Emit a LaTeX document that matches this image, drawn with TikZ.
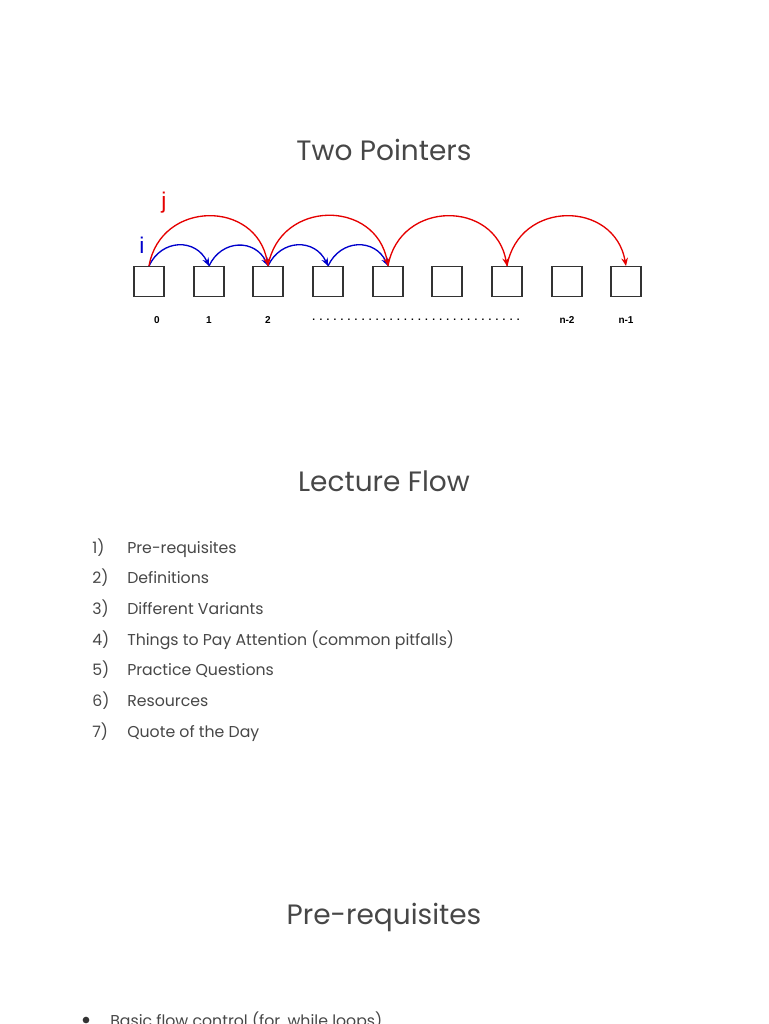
\documentclass[tikz,border=0pt]{standalone}
\usepackage{fontspec}
\usetikzlibrary{arrows.meta}
\setmainfont{Poppins}
\newfontfamily\arialb{Liberation Sans}
\begin{document}
\begin{tikzpicture}[x=0.75pt,y=-0.75pt,
  cell/.style={draw=black!80,line width=0.8pt,minimum size=22.5pt,inner sep=0pt},
  idx/.style={font=\arialb\bfseries\fontsize{7.5}{8}\selectfont},
  title/.style={font=\fontsize{21}{25}\selectfont,text=black!72,anchor=base},
  item/.style={font=\fontsize{11.8}{14}\selectfont,text=black!72,anchor=base west,inner sep=0pt},
  ra/.style={red!90!black,line width=1pt,-{Stealth[length=6pt,width=5pt]}},
  ba/.style={blue!80!black,line width=1pt,-{Stealth[length=6pt,width=5pt]}}]
\useasboundingbox (0,0) rectangle (768,1024);
\node[title] (t1) at (384,160) {Two Pointers};
\node[title] (t2) at (384,491) {Lecture Flow};
\node[title] (t3) at (384,924) {Pre-requisites};
\foreach \k/\xx in {0/149,1/209,2/268,3/328,4/388,5/447,6/507,7/567,8/626}{
  \node[cell] (c\k) at (\xx,281.5) {};
}
\node[idx] (l0) at (157,320) {0};
\node[idx] (l1) at (209,320) {1};
\node[idx] (l2) at (268,320) {2};
\node[idx] (ld) at (416,320) {.\hspace{3.2pt}.\hspace{3.2pt}.\hspace{3.2pt}.\hspace{3.2pt}.\hspace{3.2pt}.\hspace{3.2pt}.\hspace{3.2pt}.\hspace{3.2pt}.\hspace{3.2pt}.\hspace{3.2pt}.\hspace{3.2pt}.\hspace{3.2pt}.\hspace{3.2pt}.\hspace{3.2pt}.\hspace{3.2pt}.\hspace{3.2pt}.\hspace{3.2pt}.\hspace{3.2pt}.\hspace{3.2pt}.\hspace{3.2pt}.\hspace{3.2pt}.\hspace{3.2pt}.\hspace{3.2pt}.\hspace{3.2pt}.\hspace{3.2pt}.\hspace{3.2pt}.\hspace{3.2pt}.\hspace{3.2pt}.\hspace{3.2pt}.};
\node[idx] (l7) at (567,320) {n-2};
\node[idx] (l8) at (626,320) {n-1};
\foreach \a/\b in {0/1,1/2,2/3,3/4}{
  \draw[ba] (c\a.north) to[out=65,in=115,looseness=1.3] (c\b.north);
}
\foreach \a/\b in {0/2,2/4,4/6,6/8}{
  \draw[ra] (c\a.north) to[out=80,in=100,looseness=1.45] (c\b.north);
}
\node[text=red!90!black,font=\arialb\fontsize{17}{18}\selectfont] (j) at (164,203) {j};
\node[text=blue!80!black,font=\arialb\fontsize{17}{18}\selectfont] (i) at (142,245) {i};
\foreach \n/\t/\yy in {1/Pre-requisites/553,2/Definitions/583,3/Different Variants/614,4/Things to Pay Attention (common pitfalls)/645,5/Practice Questions/675,6/Resources/706,7/Quote of the Day/737}{
  \node[item] (n\n) at (92,\yy) {\n)};
  \node[item] (it\n) at (127,\yy) {\t};
}
\fill[black!80] (86,1020) circle (2.5pt);
\node[item] (b1) at (110,1026) {Basic flow control (for, while loops)};
\end{tikzpicture}
\end{document}
